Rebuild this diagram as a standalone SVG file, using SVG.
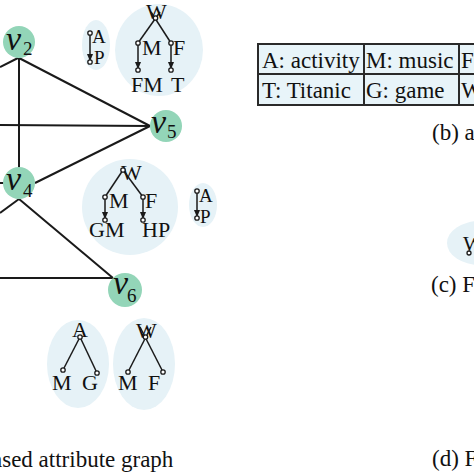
<svg xmlns="http://www.w3.org/2000/svg" width="474" height="474" viewBox="0 0 474 474">
<defs>
<style>
.t{font-family:"Liberation Serif","Times New Roman",serif;fill:#111}
.tl{font-size:22px}
.ts{font-size:19px}
.tab{font-size:23px}
.vi{font-family:"Liberation Serif","Times New Roman",serif;font-style:italic;font-size:34px;fill:#111}
.sub{font-family:"Liberation Serif","Times New Roman",serif;font-size:19px;fill:#111}
.node{fill:#93d5b8}
.edge{stroke:#1a1a1a;stroke-width:2;fill:none}
.bub{fill:#e6f2f7}
.tr{stroke:#1a1a1a;stroke-width:1.5;fill:none}
.dot{fill:#fff;stroke:#1a1a1a;stroke-width:1.3}
.cell{fill:#e8f4f9;stroke:#2a2a2a;stroke-width:2}
</style>
<marker id="ah" viewBox="0 0 6 6" refX="5" refY="3" markerWidth="5" markerHeight="5" orient="auto"><path d="M0,0.5 L6,3 L0,5.5 z" fill="#1a1a1a"/></marker>
</defs>
<rect width="474" height="474" fill="#fff"/>

<g id="connectors">
<line class="edge" x1="0" y1="67" x2="18" y2="58"/>
<line class="edge" x1="19" y1="58" x2="19" y2="168"/>
<line class="edge" x1="19" y1="58" x2="150" y2="126"/>
<line class="edge" x1="0" y1="125" x2="150" y2="126"/>
<line class="edge" x1="35" y1="183" x2="150" y2="126"/>
<line class="edge" x1="0" y1="183" x2="4" y2="183"/>
<line class="edge" x1="0" y1="213" x2="19" y2="199"/>
<line class="edge" x1="19" y1="199" x2="113" y2="278"/>
<line class="edge" x1="0" y1="278" x2="113" y2="278"/>
</g>

<g id="v2"><circle class="node" cx="19" cy="42" r="16"/><text class="vi" x="6" y="50">v</text><text class="sub" x="23" y="55">2</text></g>
<g id="v5"><circle class="node" cx="166" cy="126" r="16"/><text class="vi" x="151" y="133">v</text><text class="sub" x="167" y="138">5</text></g>
<g id="v4"><circle class="node" cx="19" cy="183" r="16"/><text class="vi" x="6" y="190">v</text><text class="sub" x="23" y="197">4</text></g>
<g id="v6"><circle class="node" cx="125" cy="290" r="17"/><text class="vi" x="113" y="294">v</text><text class="sub" x="127" y="302">6</text></g>

<g id="attr-v2-ap">
<ellipse class="bub" cx="96" cy="45" rx="14" ry="25"/>
<line class="tr" x1="90" y1="33" x2="90" y2="60" marker-end="url(#ah)"/>
<circle class="dot" cx="90" cy="33" r="2.2"/><circle class="dot" cx="90" cy="62" r="2.2"/>
<text class="t ts" x="92" y="43">A</text><text class="t ts" x="94" y="64">P</text>
</g>

<g id="attr-v2-w">
<ellipse class="bub" cx="159" cy="50" rx="44" ry="46"/>
<text class="t tl" x="146" y="19">W</text>
<line class="tr" x1="160" y1="12" x2="138" y2="43"/>
<line class="tr" x1="151" y1="12" x2="171" y2="43"/>
<circle class="dot" cx="155.5" cy="18" r="2.2"/>
<line class="tr" x1="138" y1="43" x2="138" y2="68" marker-end="url(#ah)"/>
<line class="tr" x1="171" y1="43" x2="171" y2="68" marker-end="url(#ah)"/>
<circle class="dot" cx="138" cy="43" r="2.2"/><circle class="dot" cx="171" cy="43" r="2.2"/>
<circle class="dot" cx="138" cy="70" r="2.2"/><circle class="dot" cx="171" cy="70" r="2.2"/>
<text class="t tl" x="142" y="55">M</text><text class="t tl" x="173" y="55">F</text>
<text class="t tl" x="131" y="92">FM</text><text class="t tl" x="171" y="92">T</text>
</g>

<g id="attr-v4-w">
<ellipse class="bub" cx="130" cy="207" rx="48" ry="48"/>
<text class="t tl" x="121" y="180">W</text>
<line class="tr" x1="123" y1="170" x2="105" y2="197"/>
<line class="tr" x1="123" y1="170" x2="143" y2="197"/>
<circle class="dot" cx="123" cy="170" r="2.2"/>
<line class="tr" x1="105" y1="197" x2="105" y2="218" marker-end="url(#ah)"/>
<line class="tr" x1="143" y1="197" x2="143" y2="218" marker-end="url(#ah)"/>
<circle class="dot" cx="105" cy="197" r="2.2"/><circle class="dot" cx="143" cy="197" r="2.2"/>
<circle class="dot" cx="105" cy="220" r="2.2"/><circle class="dot" cx="143" cy="220" r="2.2"/>
<text class="t tl" x="109" y="208">M</text><text class="t tl" x="145" y="208">F</text>
<text class="t tl" x="89" y="237">GM</text><text class="t tl" x="142" y="237">HP</text>
</g>

<g id="attr-v4-ap">
<ellipse class="bub" cx="203" cy="205" rx="14" ry="22"/>
<line class="tr" x1="197" y1="191" x2="197" y2="216" marker-end="url(#ah)"/>
<circle class="dot" cx="197" cy="191" r="2.2"/><circle class="dot" cx="197" cy="218" r="2.2"/>
<text class="t ts" x="199" y="202">A</text><text class="t ts" x="200" y="223">P</text>
</g>

<g id="attr-v6-a">
<ellipse class="bub" cx="78" cy="364" rx="31" ry="44"/>
<text class="t tl" x="72" y="337">A</text>
<line class="tr" x1="80" y1="337" x2="63" y2="370"/>
<line class="tr" x1="80" y1="337" x2="97" y2="373"/>
<circle class="dot" cx="80" cy="337" r="2.2"/>
<circle class="dot" cx="63" cy="370" r="2.2"/><circle class="dot" cx="97" cy="373" r="2.2"/>
<text class="t tl" x="52" y="390">M</text><text class="t tl" x="82" y="390">G</text>
</g>

<g id="attr-v6-w">
<ellipse class="bub" cx="144" cy="364" rx="31" ry="46"/>
<text class="t tl" x="136" y="338">W</text>
<line class="tr" x1="151" y1="327" x2="128" y2="372"/>
<line class="tr" x1="140" y1="327" x2="163" y2="372"/>
<circle class="dot" cx="145.5" cy="337" r="2.2"/>
<circle class="dot" cx="128" cy="372" r="2.2"/><circle class="dot" cx="163" cy="372" r="2.2"/>
<text class="t tl" x="118" y="390">M</text><text class="t tl" x="148" y="390">F</text>
</g>

<g id="attr-c">
<ellipse class="bub" cx="480" cy="243" rx="33" ry="22"/>
<text class="t tl" x="463" y="251">W</text>
<circle class="dot" cx="469" cy="253" r="2"/>
</g>

<g id="table">
<rect class="cell" x="258" y="44" width="106" height="30"/>
<rect class="cell" x="364" y="44" width="95" height="30"/>
<rect class="cell" x="459" y="44" width="30" height="30"/>
<rect class="cell" x="258" y="74" width="106" height="31"/>
<rect class="cell" x="364" y="74" width="95" height="31"/>
<rect class="cell" x="459" y="74" width="30" height="31"/>
<text class="t tab" x="262" y="68">A: activity</text>
<text class="t tab" x="366" y="68">M: music</text>
<text class="t tab" x="461" y="68">F</text>
<text class="t tab" x="262" y="98">T: Titanic</text>
<text class="t tab" x="366" y="98">G: game</text>
<text class="t tab" x="461" y="98">W</text>
</g>

<g id="captions">
<text class="t tab" x="432" y="140">(b) a</text>
<text class="t tab" x="431" y="292">(c) F</text>
<text class="t tab" x="432" y="466">(d) F</text>
<text class="t tab" x="-8" y="467">ased attribute graph</text>
</g>
</svg>
